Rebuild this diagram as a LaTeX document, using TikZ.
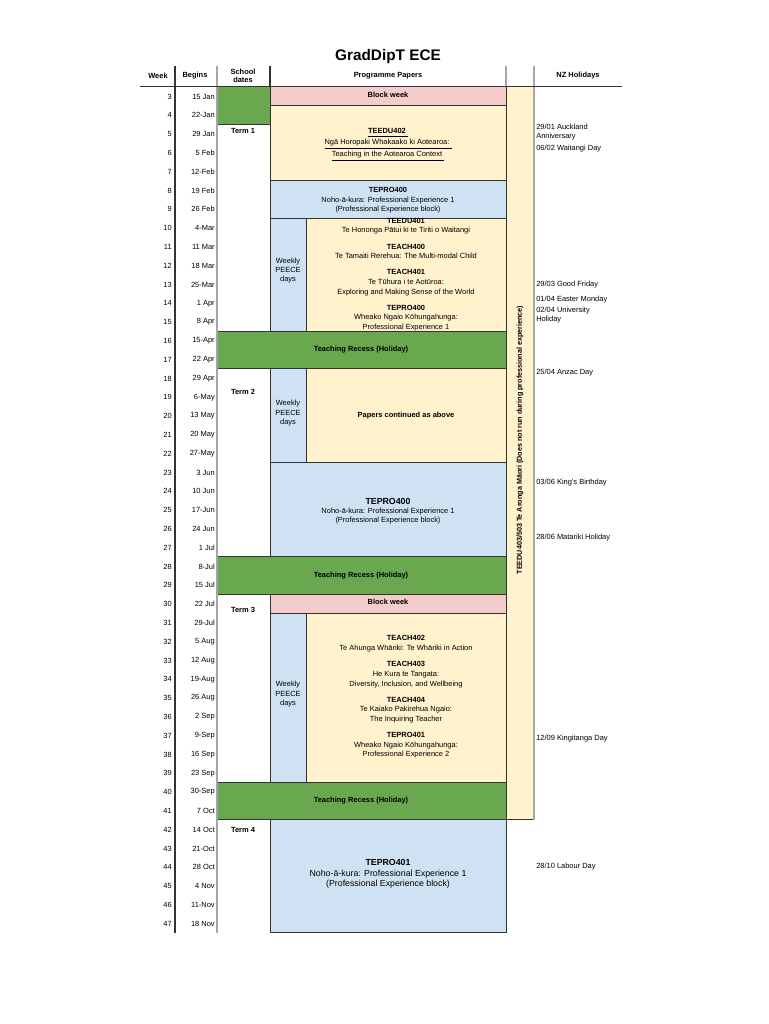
\documentclass[tikz,border=0pt]{standalone}
\usepackage{fontspec}
\setmainfont{Liberation Sans}
\definecolor{gr}{HTML}{6AA84F}
\definecolor{pk}{HTML}{F4CCCC}
\definecolor{yl}{HTML}{FFF2CC}
\definecolor{bl}{HTML}{CFE2F3}
\definecolor{ln}{HTML}{333333}
\pgfmathdeclarefunction{R}{1}{\pgfmathparse{86.5+(#1-3)*18.8}}
\begin{document}
\begin{tikzpicture}[x=0.75pt,y=-0.75pt,
  every node/.style={font=\fontsize{5.6}{6.9}\selectfont, inner sep=0pt},
  box/.style={draw=ln, line width=0.6pt},
  lbl/.style={align=center},
  hd/.style={font=\fontsize{5.6}{6.4}\selectfont\bfseries, align=center}]
\useasboundingbox (0,0) rectangle (768,1024);
\fill[white] (0,0) rectangle (768,1024);
\node[font=\fontsize{11.5}{14}\selectfont\bfseries] (title) at (388,57) {GradDipT ECE};
% headers
\node[hd] (hw) at (158,76) {Week};
\node[hd] (hb) at (195,76) {Begins};
\node[hd] (hs) at (243,76) {School\\dates};
\node[hd] (hp) at (388,76) {Programme Papers};
\node[hd] (hn) at (578,76) {NZ Holidays};
% boxes
\draw[box,fill=gr] (217,{R(3)}) rectangle (270,{R(5)});
\draw[box,fill=pk] (270,{R(3)}) rectangle (506,{R(4)});
\node[hd] (bw1) at (388,{R(3)+8}) {Block week};
\draw[box,fill=yl] (270,{R(4)}) rectangle (506,{R(8)});
\node[lbl] (p402) at (388,{R(6)+2}) {\textbf{\underline{TEEDU402\ }}\\[1pt]\underline{Ngā Horopaki Whakaako ki Aotearoa:\ }\\[1pt]\underline{Teaching in the Aotearoa Context\ }};
\draw[box,fill=bl] (270,{R(8)}) rectangle (506,{R(10)});
\node[lbl] (p400a) at (388,{R(9)+1}) {\textbf{TEPRO400}\\Noho-ā-kura: Professional Experience 1\\(Professional Experience block)};
\draw[box,fill=bl] (270,{R(10)}) rectangle (306,{R(16)});
\draw[box,fill=yl] (306,{R(10)}) rectangle (506,{R(16)});
\node[lbl] (pe1) at (288,{R(13)-4}) {Weekly\\PEECE\\days};
\node[lbl,font=\fontsize{5.6}{7.2}\selectfont] (pp1) at (406,{R(13)}) {\textbf{TEEDU401}\\Te Hononga Pātui ki te Tiriti o Waitangi\\[5pt]\textbf{TEACH400}\\Te Tamaiti Rerehua: The Multi-modal Child\\[5pt]\textbf{TEACH401}\\Te Tūhura i te Aotūroa:\\Exploring and Making Sense of the World\\[5pt]\textbf{TEPRO400}\\Wheako Ngaio Kōhungahunga:\\Professional Experience 1};
\draw[box,fill=gr] (217,{R(16)}) rectangle (506,{R(18)});
\node[hd] (tr1) at (361,{R(17)}) {Teaching Recess (Holiday)};
\draw[box,fill=bl] (270,{R(18)}) rectangle (306,{R(23)});
\draw[box,fill=yl] (306,{R(18)}) rectangle (506,{R(23)});
\node[lbl] (pe2) at (288,{R(20)+7}) {Weekly\\PEECE\\days};
\node[hd] (cont) at (406,{R(20)+9}) {Papers continued as above};
\draw[box,fill=bl] (270,{R(23)}) rectangle (506,{R(28)});
\node[lbl] (p400b) at (388,{R(25)+11}) {\textbf{\fontsize{6.6}{8}\selectfont TEPRO400}\\Noho-ā-kura: Professional Experience 1\\(Professional Experience block)};
\draw[box,fill=gr] (217,{R(28)}) rectangle (506,{R(30)});
\node[hd] (tr2) at (361,{R(29)}) {Teaching Recess (Holiday)};
\draw[box,fill=pk] (270,{R(30)}) rectangle (506,{R(31)});
\node[hd] (bw2) at (388,{R(30)+8}) {Block week};
\draw[box,fill=bl] (270,{R(31)}) rectangle (306,{R(40)});
\draw[box,fill=yl] (306,{R(31)}) rectangle (506,{R(40)});
\node[lbl] (pe3) at (288,{R(35)+6}) {Weekly\\PEECE\\days};
\node[lbl,font=\fontsize{5.6}{7.2}\selectfont] (pp3) at (406,{R(35)+9}) {\textbf{TEACH402}\\Te Ahunga Whāriki: Te Whāriki in Action\\[5pt]\textbf{TEACH403}\\He Kura te Tangata:\\Diversity, Inclusion, and Wellbeing\\[5pt]\textbf{TEACH404}\\Te Kaiako Pakirehua Ngaio:\\The Inquiring Teacher\\[5pt]\textbf{TEPRO401}\\Wheako Ngaio Kōhungahunga:\\Professional Experience 2};
\draw[box,fill=gr] (217,{R(40)}) rectangle (506,{R(42)});
\node[hd] (tr3) at (361,{R(41)}) {Teaching Recess (Holiday)};
\draw[box,fill=bl] (270,{R(42)}) rectangle (506,{R(48)});
\node[lbl,font=\fontsize{6.6}{8}\selectfont] (p401) at (388,{R(45)-2}) {\textbf{TEPRO401}\\Noho-ā-kura: Professional Experience 1\\(Professional Experience block)};
% vertical bar
\draw[box,fill=yl] (506,{R(3)}) rectangle (534,{R(42)});
\node[rotate=90,font=\fontsize{5.4}{6}\selectfont\bfseries] (vb) at (520,440) {TEEDU403/503 Te Aronga Māori (Does not run during professional experience)};
% grid lines
\draw[ln,line width=0.9pt] (175,66) -- (175,{R(48)});
\draw[gray!70,line width=0.9pt] (217,66) -- (217,{R(48)});
\draw[ln,line width=0.9pt] (270,66) -- (270,{R(3)});
\draw[gray!70,line width=0.9pt] (506,66) -- (506,{R(3)});
\draw[gray!70,line width=0.9pt] (534,66) -- (534,{R(42)});
\draw[ln,line width=0.9pt] (140,86.5) -- (622,86.5);
% terms
\node[hd] (t1) at (243,131) {Term 1};
\node[hd] (t2) at (243,392) {Term 2};
\node[hd] (t3) at (243,610) {Term 3};
\node[hd] (t4) at (243,830) {Term 4};
% weeks and dates
\foreach \w/\d in {3/15 Jan,4/22-Jan,5/29 Jan,6/5 Feb,7/12-Feb,8/19 Feb,9/26 Feb,10/4-Mar,11/11 Mar,12/18 Mar,13/25-Mar,14/1 Apr,15/8 Apr,16/15-Apr,17/22 Apr,18/29 Apr,19/6-May,20/13 May,21/20 May,22/27-May,23/3 Jun,24/10 Jun,25/17-Jun,26/24 Jun,27/1 Jul,28/8-Jul,29/15 Jul,30/22 Jul,31/29-Jul,32/5 Aug,33/12 Aug,34/19-Aug,35/26 Aug,36/2 Sep,37/9-Sep,38/16 Sep,39/23 Sep,40/30-Sep,41/7 Oct,42/14 Oct,43/21-Oct,44/28 Oct,45/4 Nov,46/11-Nov,47/18 Nov}{
  \node[anchor=east] (w\w) at (172,{R(\w)+10}) {\w};
  \node[anchor=east] (d\w) at (215,{R(\w)+10}) {\d};
}
% holidays
\begin{scope}[every node/.append style={anchor=west, align=left}]
\node (h1) at (536,132) {29/01 Auckland\\Anniversary};
\node (h2) at (536,149) {06/02 Waitangi Day};
\node (h3) at (536,285) {29/03 Good Friday};
\node (h4) at (536,300) {01/04 Easter Monday};
\node (h5) at (536,315) {02/04 University\\Holiday};
\node (h6) at (536,373) {25/04 Anzac Day};
\node (h7) at (536,483) {03/06 King's Birthday};
\node (h8) at (536,538) {28/06 Matariki Holiday};
\node (h9) at (536,739) {12/09 Kingitanga Day};
\node (h10) at (536,867) {28/10 Labour Day};
\end{scope}
\end{tikzpicture}
\end{document}
